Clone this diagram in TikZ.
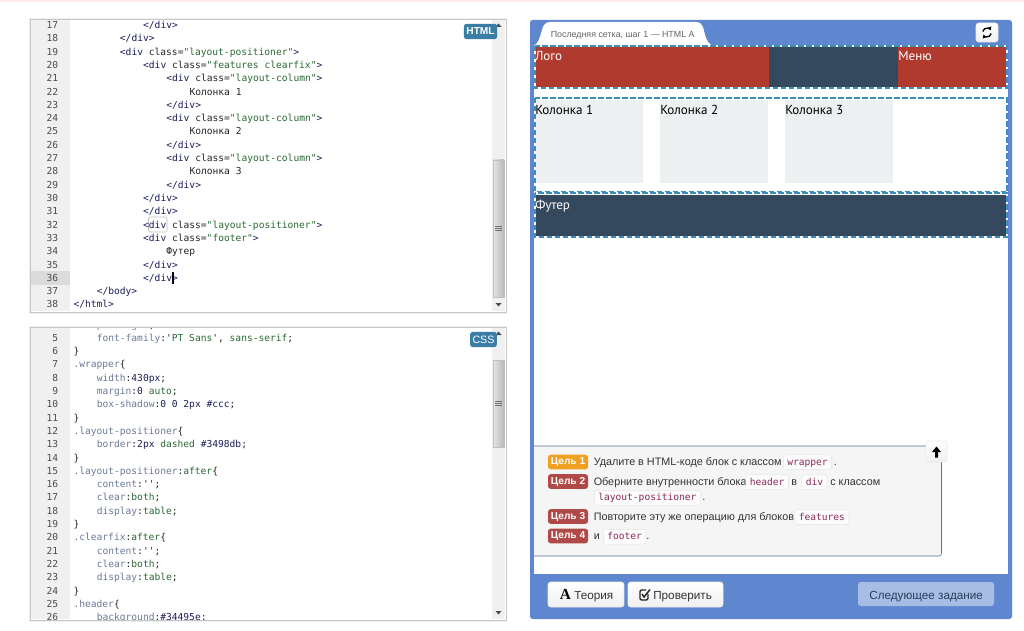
\documentclass[tikz,border=0pt]{standalone}
\usepackage{fontspec}
\setmainfont{Liberation Sans}
\newfontfamily\codefont{DejaVu Sans Mono}
\newfontfamily\pagefont{PT Sans}
\newfontfamily\iconfont{Liberation Serif}
\usetikzlibrary{arrows.meta}
\definecolor{frameblue}{HTML}{5F87CF}
\definecolor{navy}{HTML}{34495E}
\definecolor{brick}{HTML}{B03A2E}
\definecolor{column}{HTML}{ECF0F1}
\definecolor{dashblue}{HTML}{3A8FBC}
\definecolor{badgeblue}{HTML}{3A7EA6}
\definecolor{gutter}{HTML}{F0F0F0}
\definecolor{tagcol}{HTML}{1C1C5A}
\definecolor{strcol}{HTML}{2A6A35}
\definecolor{propcol}{HTML}{6C7A96}
\definecolor{chipcol}{HTML}{8A2A5A}
\definecolor{goalorange}{HTML}{F0A020}
\definecolor{goalred}{HTML}{B04A48}
\newcommand{\tg}[1]{\textcolor{tagcol}{#1}}
\newcommand{\st}[1]{\textcolor{strcol}{#1}}
\newcommand{\pr}[1]{\textcolor{propcol}{#1}}
\tikzset{
    x=0.75pt, y=-0.75pt,
    code/.style={anchor=base west, inner sep=0pt, font=\codefont\fontsize{7.2}{8}\selectfont, text=black!85},
    lnum/.style={anchor=base east, inner sep=0pt, font=\codefont\fontsize{7.2}{8}\selectfont, text=black!70},
    label/.style={anchor=base west, inner sep=0pt, font=\pagefont\fontsize{9.8}{12}\selectfont},
    task/.style={anchor=base west, inner sep=0pt, font=\fontsize{8.1}{10}\selectfont, text=black!80},
    chipbox/.style={anchor=base west, draw=black!10, fill=red!2!black!1, rounded corners=1.5pt, inner xsep=3pt, inner ysep=1.6pt,
        text height=6pt, text depth=1.8pt, text=chipcol, font=\codefont\fontsize{7.2}{8}\selectfont},
    goal/.style={anchor=center, fill=#1, rounded corners=2pt, minimum width=30pt, minimum height=11pt, inner sep=0pt,
        text=white, font=\bfseries\fontsize{7.6}{10}\selectfont},
    btn/.style={draw=black!8, top color=white, bottom color=black!6, rounded corners=2pt},
    btntext/.style={anchor=base west, inner sep=0pt, font=\fontsize{8.8}{11}\selectfont, text=black!80},
    dashbox/.style={draw=dashblue, line width=1.5pt, dash pattern=on 3.8pt off 2.2pt},
}
\begin{document}
\begin{tikzpicture}
    \useasboundingbox (0,0) rectangle (1024,631);
    \fill[white] (0,0) rectangle (1024,631);
    \fill[red!8] (0,0) rectangle (1024,2);

    % editor panels
    \foreach \ptop/\pbot/\ttop/\tbot in {19/312/160/297, 327/620/360/447} {
        \fill[black!6] (29,\ptop-1) rectangle (507,\pbot+2);
        \draw[black!22, fill=white] (30,\ptop) rectangle (506,\pbot);
        \fill[gutter] (31,\ptop+1) rectangle (70,\pbot-1);
        \fill[gutter] (492,\ptop+1) rectangle (505,\pbot-1);
        \draw[black!25, left color=black!10, right color=black!28] (493,\ttop) rectangle (504,\tbot);
        \draw[black!55] (495,{(\ttop+\tbot)/2-2}) -- (502,{(\ttop+\tbot)/2-2})
            (495,{(\ttop+\tbot)/2}) -- (502,{(\ttop+\tbot)/2})
            (495,{(\ttop+\tbot)/2+2}) -- (502,{(\ttop+\tbot)/2+2});
        \fill[black!70] (495.5,\ptop+8) -- (498.5,\ptop+4.5) -- (501.5,\ptop+8) -- cycle;
        \fill[black!70] (495.5,\pbot-9) -- (498.5,\pbot-5.5) -- (501.5,\pbot-9) -- cycle;
    }

    % html code
    \fill[black!14] (31,271) rectangle (70,285);
    \draw[black!25, rounded corners=1pt] (148.5,217) rectangle (167,232);
    \begin{scope}
        \clip (31,20) rectangle (492,311);
        \foreach \num/\ind/\txt in {
            17/12/{\tg{</div>}},
            18/8/{\tg{</div>}},
            19/8/{\tg{<div} class=\st{"layout-positioner"}\tg{>}},
            20/12/{\tg{<div} class=\st{"features clearfix"}\tg{>}},
            21/16/{\tg{<div} class=\st{"layout-column"}\tg{>}},
            22/20/{Колонка 1},
            23/16/{\tg{</div>}},
            24/16/{\tg{<div} class=\st{"layout-column"}\tg{>}},
            25/20/{Колонка 2},
            26/16/{\tg{</div>}},
            27/16/{\tg{<div} class=\st{"layout-column"}\tg{>}},
            28/20/{Колонка 3},
            29/16/{\tg{</div>}},
            30/12/{\tg{</div>}},
            31/12/{\tg{</div>}},
            32/12/{\tg{<div} class=\st{"layout-positioner"}\tg{>}},
            33/12/{\tg{<div} class=\st{"footer"}\tg{>}},
            34/16/{Футер},
            35/12/{\tg{</div>}},
            36/12/{\tg{</div>}},
            37/4/{\tg{</body>}},
            38/0/{\tg{</html>}}} {
            \node[lnum] at (58.5,{28.6+13.3*(\num-17)}) {\num};
            \node[code] at ({73.3+5.8*\ind},{28.6+13.3*(\num-17)}) {\txt};
        }
    \end{scope}
    \draw[black, line width=0.8pt] (173,272) -- (173,284);

    % css code
    \begin{scope}
        \clip (31,328) rectangle (492,619);
        \foreach \num/\ind/\txt in {
            4/4/{\pr{padding}:\tg{0};},
            5/4/{\pr{font-family}:'\st{PT Sans}', \st{sans-serif};},
            6/0/{\}},
            7/0/{\pr{.wrapper}\{},
            8/4/{\pr{width}:\tg{430px};},
            9/4/{\pr{margin}:\tg{0} \st{auto};},
            10/4/{\pr{box-shadow}:\tg{0 0 2px \#ccc};},
            11/0/{\}},
            12/0/{\pr{.layout-positioner}\{},
            13/4/{\pr{border}:\tg{2px} \st{dashed} \tg{\#3498db};},
            14/0/{\}},
            15/0/{\pr{.layout-positioner}:\st{after}\{},
            16/4/{\pr{content}:'';},
            17/4/{\pr{clear}:\st{both};},
            18/4/{\pr{display}:\st{table};},
            19/0/{\}},
            20/0/{\pr{.clearfix}:\st{after}\{},
            21/4/{\pr{content}:'';},
            22/4/{\pr{clear}:\st{both};},
            23/4/{\pr{display}:\st{table};},
            24/0/{\}},
            25/0/{\pr{.header}\{},
            26/4/{\pr{background}:\tg{\#34495e};}} {
            \node[lnum] at (58.5,{341.3+13.3*(\num-5)}) {\num};
            \node[code] at ({73.3+5.8*\ind},{341.3+13.3*(\num-5)}) {\txt};
        }
    \end{scope}

    % language badges
    \node[fill=badgeblue, rounded corners=2pt, text=white, minimum width=25pt, minimum height=11.5pt, inner sep=0pt,
        font=\bfseries\fontsize{7.6}{10}\selectfont] (htmlbadge) at (480.5,31.5) {HTML};
    \node[fill=badgeblue, rounded corners=2pt, text=white, minimum width=20pt, minimum height=11.5pt, inner sep=0pt,
        font=\fontsize{8}{10}\selectfont] (cssbadge) at (483.5,339.5) {CSS};

    % preview frame
    \fill[frameblue, rounded corners=2pt] (530,20) rectangle (1012,619);
    \fill[white] (534,46) rectangle (1008,574);
    \fill[white] (535,45) .. controls (540,42) and (541,30) .. (544,25) .. controls (545,23) and (547,22) .. (550,22)
        -- (695,22) .. controls (700,22) and (702,24) .. (703,27) .. controls (705,34) and (706,42) .. (711,45) -- cycle;
    \node[anchor=base west, inner sep=0pt, text=black!60, font=\fontsize{6.65}{8}\selectfont] (tabtitle) at (550.5,37.5)
        {Последняя сетка, шаг 1 — HTML A};
    \draw[btn] (976,23) rectangle (998,42);
    \draw[black, line width=1pt, -{Latex[length=2.6pt,width=3.6pt]}] (982.8,31.5) arc (-170:-25:4.2);
    \draw[black, line width=1pt, -{Latex[length=2.6pt,width=3.6pt]}] (991.2,33.5) arc (10:155:4.2);

    % header
    \fill[brick] (535,47) rectangle (769,88);
    \fill[navy] (769,47) rectangle (898,88);
    \fill[brick] (898,47) rectangle (1007,88);
    \node[label, text=white] (logo) at (535,61) {Лого};
    \node[label, text=white] (menu) at (898,61) {Меню};

    % columns
    \foreach \cx/\cn in {535/1, 660/2, 785/3} {
        \fill[column] (\cx,100) rectangle (\cx+108,183);
        \node[label, text=black] (col\cn) at (\cx,114.5) {Колонка \cn};
    }

    % footer
    \fill[navy] (535,195) rectangle (1007,236);
    \node[label, text=white] (foot) at (535,209.5) {Футер};

    % dashed positioners
    \foreach \dtop/\dbot in {46/88, 98/192, 193/237} {
        \draw[white, line width=1.5pt] (534.5,\dtop) rectangle (1007,\dbot);
        \draw[dashbox] (534.5,\dtop) rectangle (1007,\dbot);
    }

    % task panel
    \draw[draw=black!20!frameblue!70!gray, fill=black!4, rounded corners=2pt] (534,446) -- (941.5,446) -- (941.5,556) -- (534,556);
    \draw[btn] (926,441) rectangle (947,462);
    \fill[black] (936.5,446.5) -- (941,452) -- (938,452) -- (938,457.5) -- (935,457.5) -- (935,452) -- (932,452) -- cycle;

    \node[goal=goalorange] (goal1) at (568,462) {Цель 1};
    \node[goal=goalred] (goal2) at (568,481.5) {Цель 2};
    \node[goal=goalred] (goal3) at (568,516.5) {Цель 3};
    \node[goal=goalred] (goal4) at (568,536) {Цель 4};

    \node[task] (t1) at (593.5,465) {Удалите в HTML-коде блок с классом};
    \node[chipbox] (c1) at (783,465) {wrapper};
    \node[task] (t1b) at (833.5,465) {.};
    \node[task] (t2) at (593.5,485) {Оберните внутренности блока};
    \node[chipbox] (c2) at (745.5,485) {header};
    \node[task] (t2b) at (791,485) {в};
    \node[chipbox] (c3) at (801.5,485) {div};
    \node[task] (t2c) at (830,485) {с классом};
    \node[chipbox] (c4) at (594,500.5) {layout-positioner};
    \node[task] (t2d) at (702,500.5) {.};
    \node[task] (t3) at (593.5,520) {Повторите эту же операцию для блоков};
    \node[chipbox] (c5) at (794.5,520) {features};
    \node[task] (t4) at (593.5,539.5) {и};
    \node[chipbox] (c6) at (603,539.5) {footer};
    \node[task] (t4b) at (646,539.5) {.};

    % buttons
    \draw[btn] (548,582) rectangle (624,607);
    \node[anchor=base west, inner sep=0pt, text=black, font=\iconfont\bfseries\fontsize{11.5}{12}\selectfont] (theoryicon) at (559.5,599) {A};
    \node[btntext] (theory) at (574,599) {Теория};
    \draw[btn] (628,582) rectangle (723,607);
    \draw[black!85, line width=1pt, rounded corners=1pt] (648,594) -- (648,600) -- (640,600) -- (640,590) -- (646,590);
    \draw[black!85, line width=1.1pt] (642,594) -- (644,597) -- (650,589.5);
    \node[btntext] (check) at (653,599) {Проверить};
    \fill[frameblue!55!white, rounded corners=2pt] (858,582) rectangle (994,606);
    \node[btntext, text=black!55!frameblue] (next) at (869,599) {Следующее задание};
\end{tikzpicture}
\end{document}
